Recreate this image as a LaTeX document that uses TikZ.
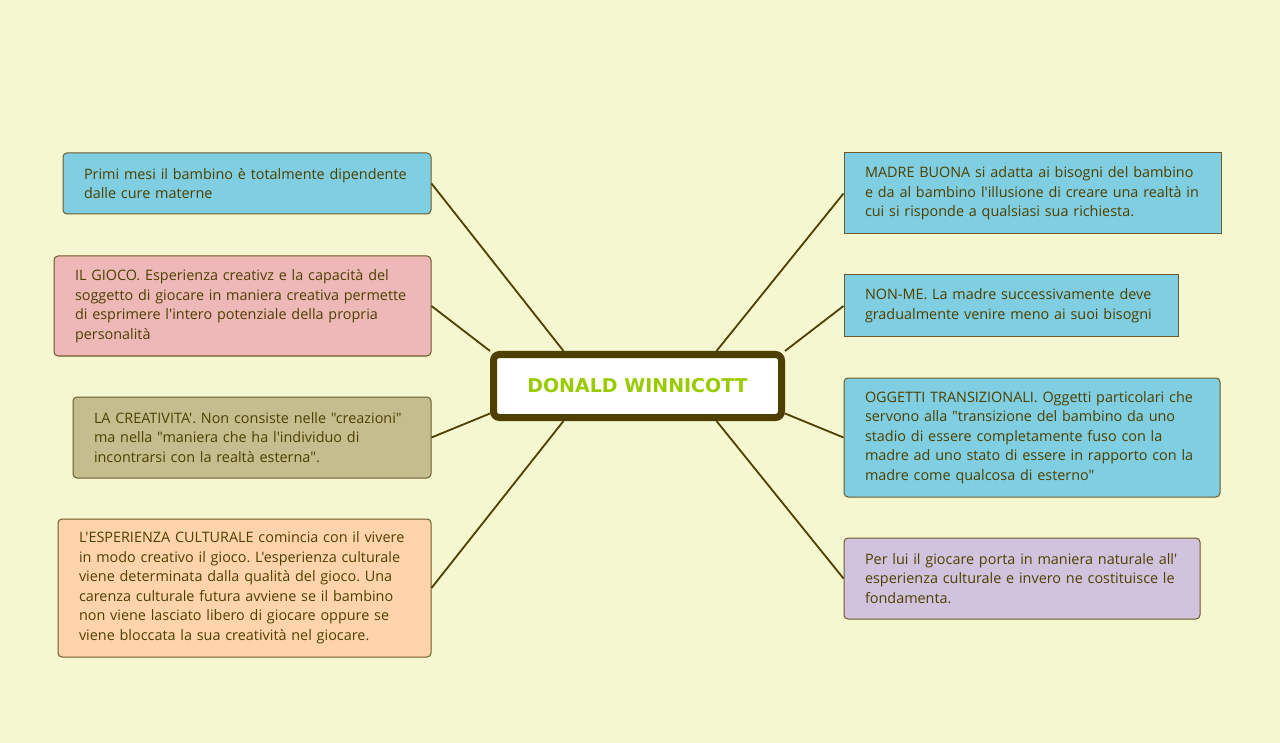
\documentclass[tikz,border=0pt]{standalone}
\usepackage{fontspec}
\setmainfont{Open Sans}[Ligatures=TeXOff]
\newfontfamily\titlefont{DejaVu Sans}
\frenchspacing
\definecolor{bgcol}{HTML}{F4F7CF}
\definecolor{inkcol}{HTML}{4D4000}
\definecolor{edgecol}{HTML}{6B5A2A}
\definecolor{bluecol}{HTML}{80CEE1}
\definecolor{pinkcol}{HTML}{EEB7B8}
\definecolor{khakicol}{HTML}{C4BE8F}
\definecolor{peachcol}{HTML}{FFD4AC}
\definecolor{lilaccol}{HTML}{D1C3DE}
\definecolor{limecol}{HTML}{99CC00}
\tikzset{
    box/.style={draw=edgecol, line width=1pt, text=inkcol, align=left,
        inner xsep=21pt, inner ysep=0pt,
        font=\fontsize{14.4}{19.5}\selectfont},
    rbox/.style={box, rounded corners=4pt},
    hub/.style={draw=inkcol, fill=white, line width=7pt, rounded corners=6pt,
        minimum width=288pt, minimum height=63pt,
        text=limecol, font=\titlefont\bfseries\fontsize{19}{22}\selectfont},
    link/.style={draw=inkcol, line width=1.8pt}
}
\begin{document}
\begin{tikzpicture}[x=1pt, y=-1pt]
        % Background
        \fill [bgcol] (0,0) rectangle (1280,743);
        % Central topic
        \node [hub] (hub) at (637.5,386) {DONALD WINNICOTT};
        % Left boxes
        \node [rbox, fill=bluecol, text width=326pt, minimum height=61pt] (prim) at (247,183.5)
            {Primi mesi il bambino è totalmente dipendente\\dalle cure materne};
        \node [rbox, fill=pinkcol, text width=335pt, minimum height=100pt] (gioco) at (242.5,306)
            {IL GIOCO. Esperienza creativz e la capacità del\\soggetto di giocare in maniera creativa permette\\di esprimere l'intero potenziale della propria\\personalità};
        \node [rbox, fill=khakicol, text width=316pt, minimum height=81pt] (crea) at (252,437.5)
            {LA CREATIVITA'. Non consiste nelle "creazioni"\\ma nella "maniera che ha l'individuo di\\incontrarsi con la realtà esterna".};
        \node [rbox, fill=peachcol, text width=331pt, minimum height=138pt] (esp) at (244.5,588)
            {L'ESPERIENZA CULTURALE comincia con il vivere\\in modo creativo il gioco. L'esperienza culturale\\viene determinata dalla qualità del gioco. Una\\carenza culturale futura avviene se il bambino\\non viene lasciato libero di giocare oppure se\\viene bloccata la sua creatività nel giocare.};
        % Right boxes
        \node [box, fill=bluecol, text width=335pt, minimum height=81pt] (madre) at (1032.5,193.5)
            {MADRE BUONA si adatta ai bisogni del bambino\\e da al bambino l'illusione di creare una realtà in\\cui si risponde a qualsiasi sua richiesta.};
        \node [box, fill=bluecol, text width=292pt, minimum height=62pt] (nonme) at (1011,306)
            {NON-ME. La madre successivamente deve\\gradualmente venire meno ai suoi bisogni};
        \node [rbox, fill=bluecol, text width=334pt, minimum height=119pt] (ogg) at (1032,437.5)
            {OGGETTI TRANSIZIONALI. Oggetti particolari che\\servono alla "transizione del bambino da uno\\stadio di essere completamente fuso con la\\madre ad uno stato di essere in rapporto con la\\madre come qualcosa di esterno"};
        \node [rbox, fill=lilaccol, text width=314pt, minimum height=81pt] (perlui) at (1022,578.5)
            {Per lui il giocare porta in maniera naturale all'\\esperienza culturale e invero ne costituisce le\\fondamenta.};
        % Draw links
        \draw [link] ([xshift=73.5pt]hub.north west) -- (prim.east);
        \draw [link] (hub.north west) -- (gioco.east);
        \draw [link] ([yshift=7.5pt]hub.south west) -- (crea.east);
        \draw [link] ([xshift=73.5pt]hub.south west) -- (esp.east);
        \draw [link] ([xshift=-68.5pt]hub.north east) -- (madre.west);
        \draw [link] (hub.north east) -- (nonme.west);
        \draw [link] ([yshift=7.5pt]hub.south east) -- (ogg.west);
        \draw [link] ([xshift=-68.5pt]hub.south east) -- (perlui.west);
    \end{tikzpicture}
\end{document}
